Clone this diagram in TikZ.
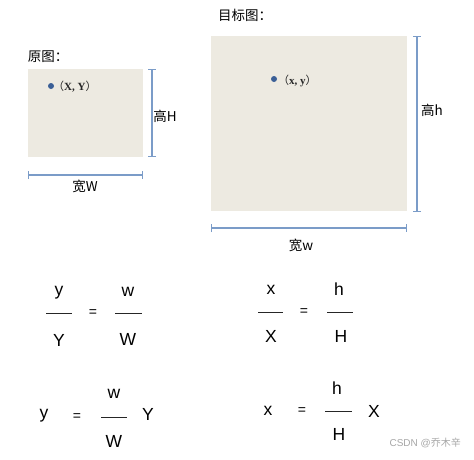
\documentclass[tikz,border=0pt]{standalone}
\usepackage{fontspec}
\setmainfont{Liberation Sans}
\newfontfamily\cjk{Noto Sans CJK SC}
\newfontfamily\serifb{Liberation Serif}
\usetikzlibrary{arrows.meta}
\definecolor{paper}{HTML}{EDEAE1}
\definecolor{dimblue}{HTML}{7B9CC8}
\definecolor{dotblue}{HTML}{3B5F96}
\tikzset{
  canvas/.style={fill=paper, draw=none},
  dimline/.style={draw=dimblue, line width=1.1pt, {Bar[width=8pt]}-{Bar[width=8pt]}},
  cjklabel/.style={font=\cjk\fontsize{13.5}{15}\selectfont, inner sep=0pt, anchor=center},
  ptdot/.style={circle, fill=dotblue, minimum size=6pt, inner sep=0pt},
  ptlabel/.style={font=\serifb\bfseries\fontsize{11}{13}\selectfont, text=black!85, inner sep=0pt, anchor=west},
  sym/.style={font=\fontsize{17.5}{19}\selectfont, inner sep=0pt, anchor=center},
  eqsign/.style={font=\fontsize{14}{15}\selectfont, inner sep=0pt, anchor=center},
  fracbar/.style={draw=black!85, line width=0.7pt},
  wmark/.style={font=\fontsize{10}{12}\selectfont, text=gray!70, inner sep=0pt, anchor=east}
}
\newcommand{\lp}{{\cjk\mdseries （}}
\newcommand{\rp}{{\cjk\mdseries ）}}
\begin{document}
\begin{tikzpicture}[x=1pt, y=-1pt]
\useasboundingbox (0,0) rectangle (474,459);
% source image
\node[cjklabel] (t1) at (48,57) {原图：};
\fill[canvas] (28,69) rectangle (143,157);
\node[ptdot] (d1) at (51,86) {};
\node[ptlabel] (p1) at (53,87) {\lp X, Y\rp};
\coordinate (h1a) at (152,69);
\coordinate (h1b) at (152,157);
\draw[dimline] (h1a) -- (h1b);
\node[cjklabel] (lh1) at (165,116) {高H};
\coordinate (w1a) at (28,175);
\coordinate (w1b) at (143,175);
\draw[dimline] (w1a) -- (w1b);
\node[cjklabel] (lw1) at (85,186) {宽W};
% target image
\node[cjklabel] (t2) at (245,15) {目标图：};
\fill[canvas] (211,36) rectangle (407,211);
\node[ptdot] (d2) at (274,79) {};
\node[ptlabel] (p2) at (278,81) {\lp x, y\rp};
\coordinate (h2a) at (417,36);
\coordinate (h2b) at (417,212);
\draw[dimline] (h2a) -- (h2b);
\node[cjklabel] (lh2) at (432,110) {高h};
\coordinate (w2a) at (211,228);
\coordinate (w2b) at (407,228);
\draw[dimline] (w2a) -- (w2b);
\node[cjklabel] (lw2) at (301,245) {宽w};
% formula 1: y/Y = w/W
\node[sym] (f1n) at (59,293) {y};
\coordinate (f1a) at (46,313); \coordinate (f1b) at (72,313);
\draw[fracbar] (f1a) -- (f1b);
\node[sym] (f1d) at (59,340) {Y};
\node[eqsign] (f1e) at (93,313) {=};
\node[sym] (f1n2) at (128,292) {w};
\coordinate (f1c) at (115,313); \coordinate (f1d2) at (142,313);
\draw[fracbar] (f1c) -- (f1d2);
\node[sym] (f1dd) at (128,339) {W};
% formula 2: x/X = h/H
\node[sym] (f2n) at (271,290) {x};
\coordinate (f2a) at (258,312); \coordinate (f2b) at (283,312);
\draw[fracbar] (f2a) -- (f2b);
\node[sym] (f2d) at (271,336) {X};
\node[eqsign] (f2e) at (304,312) {=};
\node[sym] (f2n2) at (339,289) {h};
\coordinate (f2c) at (327,312); \coordinate (f2d2) at (353,312);
\draw[fracbar] (f2c) -- (f2d2);
\node[sym] (f2dd) at (341,336) {H};
% formula 3: y = w/W Y
\node[sym] (f3l) at (44,416) {y};
\node[eqsign] (f3e) at (77,417) {=};
\node[sym] (f3n) at (114,394) {w};
\coordinate (f3a) at (101,417); \coordinate (f3b) at (127,417);
\draw[fracbar] (f3a) -- (f3b);
\node[sym] (f3d) at (114,441) {W};
\node[sym] (f3r) at (148,414) {Y};
% formula 4: x = h/H X
\node[sym] (f4l) at (268,411) {x};
\node[eqsign] (f4e) at (302,411) {=};
\node[sym] (f4n) at (337,388) {h};
\coordinate (f4a) at (325,411); \coordinate (f4b) at (352,411);
\draw[fracbar] (f4a) -- (f4b);
\node[sym] (f4d) at (339,434) {H};
\node[sym] (f4r) at (374,411) {X};
% watermark
\node[wmark] (wm) at (461,443) {CSDN @{\cjk 乔木辛}};
\end{tikzpicture}
\end{document}
